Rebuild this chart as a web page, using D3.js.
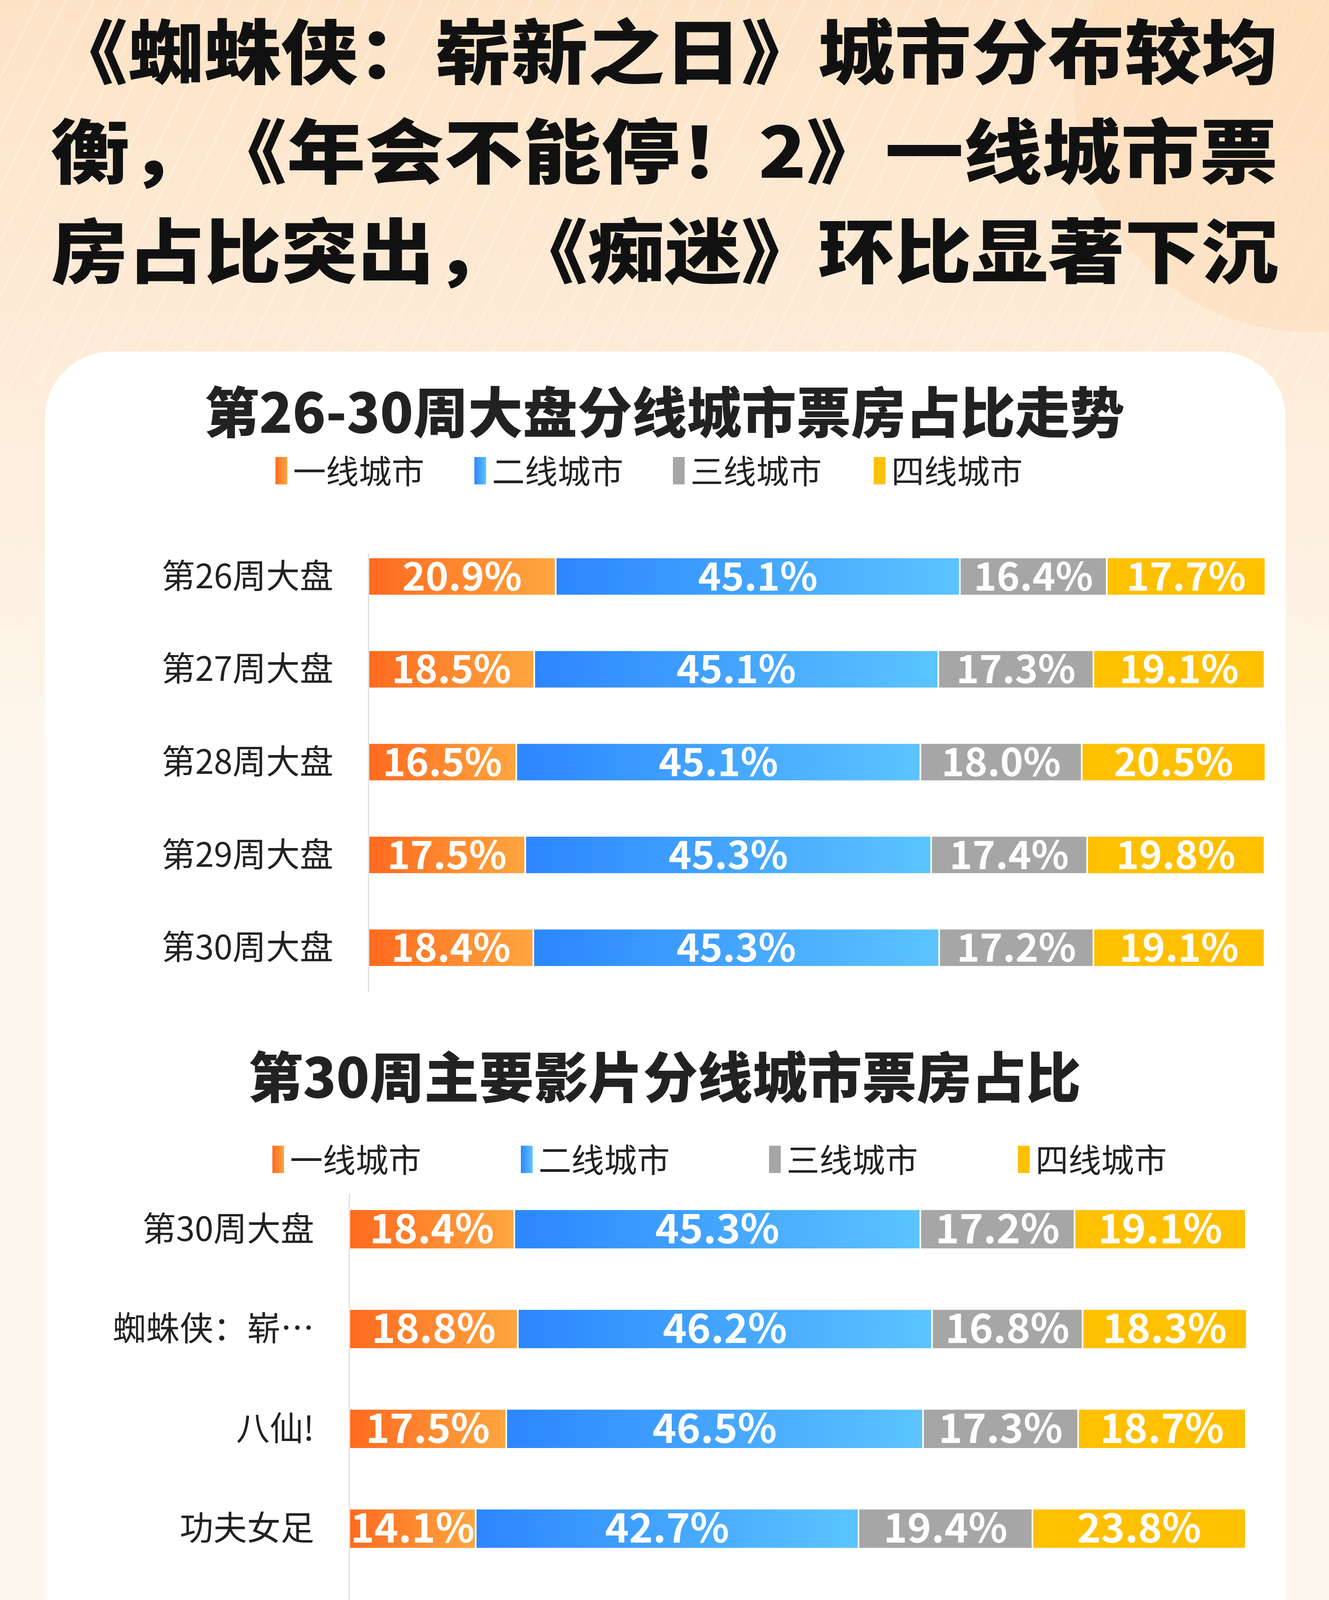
<!DOCTYPE html>
<html><head><meta charset="utf-8">
<script src="https://cdn.jsdelivr.net/npm/d3@7"></script>
<style>body{margin:0;background:#fdf6ec}svg{display:block}</style>
</head><body>
<script>
"use strict";
const W = 3401, H = 6429;
const FONT = "'Noto Sans CJK SC', 'Noto Sans', sans-serif";

const tiers = ["一线城市", "二线城市", "三线城市", "四线城市"];
const weeks = ["第26周大盘", "第27周大盘", "第28周大盘", "第29周大盘", "第30周大盘"];
const weekTier1 = [20.9, 18.5, 16.5, 17.5, 18.4];
const weekTier2 = [45.1, 45.1, 45.1, 45.3, 45.3];
const weekTier3 = [16.4, 17.3, 18.0, 17.4, 17.2];
const weekTier4 = [17.7, 19.1, 20.5, 19.8, 19.1];

const films = ["第30周大盘", "蜘蛛侠：崭…", "八仙!", "功夫女足", "年会不能停！…", "痴迷", "想你了", "四渡", "小黄人与大…", "汪汪队立大…", "奥德赛"];
const filmTier1 = [18.4, 18.8, 17.5, 14.1, 21.5, 17.7, 7.7, 34.6, 21.7, 19.7, 100.0];
const filmTier2 = [45.3, 46.2, 46.5, 42.7, 45.8, 44.0, 36.8, 40.1, 42.3, 53.5, 0];
const filmTier3 = [17.2, 16.8, 17.3, 19.4, 16.3, 17.6, 23.2, 12.0, 17.1, 14.6, 0];
const filmTier4 = [19.1, 18.3, 18.7, 23.8, 16.4, 20.7, 32.4, 13.3, 18.8, 12.2, 0];

const svg = d3.select("body").append("svg").attr("width", W).attr("height", H);
const defs = svg.append("defs");

// background
const bg = defs.append("linearGradient").attr("id", "bg").attr("x1", 0).attr("y1", 0).attr("x2", 0).attr("y2", 1);
bg.append("stop").attr("offset", 0).attr("stop-color", "#fde3c6");
bg.append("stop").attr("offset", 0.18).attr("stop-color", "#fdeedd");
bg.append("stop").attr("offset", 0.3).attr("stop-color", "#fdf6ec");
bg.append("stop").attr("offset", 1).attr("stop-color", "#fdf6ec");
svg.append("rect").attr("width", W).attr("height", H).attr("fill", "url(#bg)");
const stripes = svg.append("g").attr("stroke", "#ffffff").attr("stroke-opacity", 0.35).attr("stroke-width", 4);
d3.range(0, 60).forEach(i => {
  const x = -400 + i * 70;
  stripes.append("line").attr("x1", x).attr("y1", 1000).attr("x2", x + 500).attr("y2", 0);
});
svg.append("circle").attr("cx", 3350).attr("cy", 250).attr("r", 600).attr("fill", "#fcd9b3").attr("opacity", 0.45);

function grad(id, a, b) {
  const g = defs.append("linearGradient").attr("id", id).attr("x1", 0).attr("x2", 1);
  g.append("stop").attr("offset", 0).attr("stop-color", a);
  g.append("stop").attr("offset", 1).attr("stop-color", b);
}
grad("g0", "#ff6a1f", "#ffa640");
grad("g1", "#2c86ff", "#5cc4ff");
const fills = ["url(#g0)", "url(#g1)", "#a6a6a6", "#ffc000"];

// headline
const head = ["《蜘蛛侠：崭新之日》城市分布较均", "衡，　《年会不能停！2》一线城市票", "房占比突出，　《痴迷》环比显著下沉"];
svg.append("g").selectAll("text").data(head).join("text")
  .attr("x", W / 2).attr("y", (d, i) => 200 + i * 255)
  .attr("text-anchor", "middle").attr("font-family", FONT).attr("font-weight", 900)
  .attr("font-size", 180).attr("fill", "#111")
  .attr("textLength", 3140).attr("lengthAdjust", "spacingAndGlyphs")
  .text(d => d);

// card
svg.append("rect").attr("x", 115).attr("y", 900).attr("width", 3175).attr("height", 5005)
  .attr("rx", 170).attr("fill", "#fff");

function legend(y, xs) {
  const g = svg.append("g");
  tiers.forEach((t, i) => {
    g.append("rect").attr("x", xs[i]).attr("y", y - 40).attr("width", 30).attr("height", 70).attr("fill", fills[i]);
    g.append("text").attr("x", xs[i] + 45).attr("y", y + 28).attr("font-family", FONT)
      .attr("font-size", 84).attr("fill", "#222").text(t);
  });
}

function chart(cfg) {
  svg.append("text").attr("x", W / 2).attr("y", cfg.titleY).attr("text-anchor", "middle")
    .attr("font-family", FONT).attr("font-weight", 900).attr("font-size", 140).attr("fill", "#222")
    .text(cfg.title);
  legend(cfg.legendY, cfg.legendX);

  const rows = cfg.cats.map((c, i) => {
    let acc = 0;
    return { cat: c, segs: cfg.series.map((s, k) => { const v = s[i]; const o = { k, v, x0: acc, x1: acc + v }; acc += v; return o; }) };
  });
  const x = d3.scaleLinear().domain([0, 100]).range([cfg.x0, cfg.x1]);
  const y = d3.scaleBand().domain(cfg.cats).range([cfg.y0, cfg.y1]).paddingInner(cfg.pad).paddingOuter(cfg.pad / 2);

  const clipId = "clip" + cfg.titleY;
  defs.append("clipPath").attr("id", clipId).append("rect")
    .attr("x", cfg.x0).attr("y", cfg.y0 - 200).attr("width", cfg.x1 - cfg.x0 + 10).attr("height", cfg.y1 - cfg.y0 + 400);

  const g = svg.append("g").attr("clip-path", `url(#${clipId})`);
  const row = g.selectAll("g.row").data(rows).join("g").attr("transform", d => `translate(0,${y(d.cat)})`);
  const seg = row.selectAll("g.seg").data(d => d.segs.filter(s => s.v > 0)).join("g");
  seg.append("rect").attr("x", d => x(d.x0)).attr("width", d => x(d.x1) - x(d.x0))
    .attr("height", y.bandwidth()).attr("fill", d => fills[d.k]).attr("stroke", "#fff").attr("stroke-width", 4);
  seg.append("text").attr("x", d => (x(d.x0) + x(d.x1)) / 2).attr("y", y.bandwidth() / 2 + 36)
    .attr("text-anchor", "middle").attr("font-family", FONT).attr("font-weight", 700)
    .attr("font-size", cfg.valSize).attr("fill", "#fff").text(d => d.v.toFixed(1) + "%");

  svg.append("g").selectAll("text").data(cfg.cats).join("text")
    .attr("x", cfg.x0 - 90).attr("y", d => y(d) + y.bandwidth() / 2 + 30)
    .attr("text-anchor", "end").attr("font-family", FONT).attr("font-size", 86).attr("fill", "#222")
    .text(d => d);
  svg.append("line").attr("x1", cfg.x0).attr("x2", cfg.x0).attr("y1", cfg.axY0).attr("y2", cfg.axY1)
    .attr("stroke", "#dddddd").attr("stroke-width", 3);
}

chart({
  title: "第26-30周大盘分线城市票房占比走势", titleY: 1108, legendY: 1210,
  legendX: [705, 1214, 1722, 2236], cats: weeks,
  series: [weekTier1, weekTier2, weekTier3, weekTier4],
  x0: 943, x1: 3236, y0: 1357, y1: 2545, pad: 0.59, axY0: 1415, axY1: 2540, valSize: 100
});
chart({
  title: "第30周主要影片分线城市票房占比", titleY: 2810, legendY: 2973,
  legendX: [697, 1333, 1968, 2605], cats: films,
  series: [filmTier1, filmTier2, filmTier3, filmTier4],
  x0: 894, x1: 3188, y0: 3019, y1: 5830, pad: 0.6, axY0: 3055, axY1: 5822, valSize: 104
});

// footer
svg.append("text").attr("x", 123).attr("y", 6195).attr("font-family", FONT).attr("font-size", 96).attr("fill", "#555").text("统计截至时间");
svg.append("text").attr("x", 123).attr("y", 6375).attr("font-family", FONT).attr("font-size", 96).attr("fill", "#555").text("2026年8月3日");
const logo = svg.append("g").attr("transform", "translate(1296,6150)");
logo.append("rect").attr("width", 175).attr("height", 185).attr("rx", 40).attr("fill", "#ff6a1f");
logo.append("path").attr("d", "M55,150 L55,70 L75,65 L87,30 L99,65 L119,70 L119,150 Z").attr("fill", "#fff");
logo.append("path").attr("d", "M55,185 L119,110 L130,130 L80,185 Z").attr("fill", "#ffb48a");
svg.append("text").attr("x", 1515).attr("y", 6290).attr("font-family", FONT).attr("font-weight", 500)
  .attr("font-size", 128).attr("fill", "#ff6a1f").text("灯塔专业版");
</script>
</body></html>
